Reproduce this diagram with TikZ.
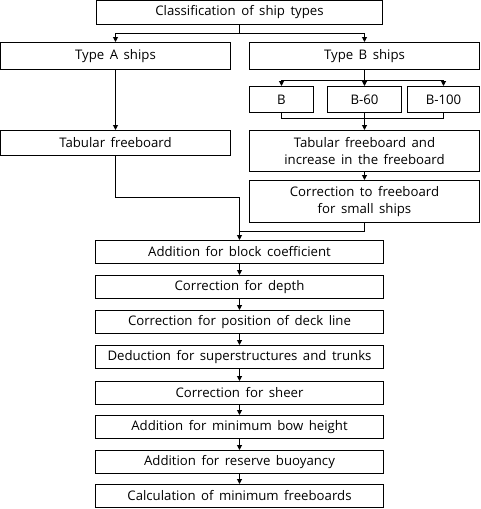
\documentclass[tikz,border=0pt]{standalone}
\usepackage{fontspec}
\setmainfont{Open Sans}[WordSpace=1.6]
\usetikzlibrary{arrows.meta}
\begin{document}
\begin{tikzpicture}[x=1pt,y=-1pt,
  box/.style={draw,line width=1pt,inner sep=0pt,align=center,font=\fontsize{13.2}{16.5}\selectfont},
  arr/.style={line width=1pt,-{Triangle[length=5pt,width=5pt]}},
  ln/.style={line width=1pt}]
\useasboundingbox (0,0) rectangle (480,509);
\node[box,minimum width=286pt,minimum height=24pt] (top) at (239.5,12.5) {Classification of ship types};
\node[box,minimum width=230pt,minimum height=27pt] (ta) at (115.5,56) {Type A ships};
\node[box,minimum width=230pt,minimum height=27pt] (tb) at (364.5,56) {Type B ships};
\node[box,minimum width=64pt,minimum height=26pt] (b) at (281.5,99.5) {B};
\node[box,minimum width=74pt,minimum height=26pt] (b60) at (364.5,99.5) {B-60};
\node[box,minimum width=72pt,minimum height=26pt] (b100) at (443.5,99.5) {B-100};
\node[box,minimum width=230pt,minimum height=25pt] (tab) at (115.5,143) {Tabular freeboard};
\node[box,minimum width=230pt,minimum height=41pt] (tabb) at (364.5,151) {Tabular freeboard and\\increase in the freeboard};
\node[box,minimum width=230pt,minimum height=42pt] (corr) at (364.5,201.5) {Correction to freeboard\\for small ships};
\begin{scope}[every node/.style={box,minimum width=288pt,minimum height=23pt}]
\node (l1) at (239.5,252) {Addition for block coefficient};
\node (l2) at (239.5,287) {Correction for depth};
\node (l3) at (239.5,322) {Correction for position of deck line};
\node (l4) at (239.5,357) {Deduction for superstructures and trunks};
\node (l5) at (239.5,393) {Correction for sheer};
\node (l6) at (239.5,427) {Addition for minimum bow height};
\node (l7) at (239.5,462) {Addition for reserve buoyancy};
\node (l8) at (239.5,496) {Calculation of minimum freeboards};
\end{scope}
\coordinate (j1) at (239.5,33.5);
\draw[ln] (top.south) -- (j1);
\draw[arr] (j1) -| (ta.north);
\draw[arr] (j1) -| (tb.north);
\coordinate (j2) at (364.5,80.5);
\draw[arr] (tb.south) -- (b60.north);
\draw[arr] (j2) -| (b.north);
\draw[arr] (j2) -| (b100.north);
\coordinate (j3) at (281.5,118.5);
\draw[ln] (b.south) -- (j3) -| (b100.south);
\draw[arr] (b60.south) -- (tabb.north);
\draw[arr] (ta.south) -- (tab.north);
\draw[arr] (tabb.south) -- (corr.north);
\coordinate (k1) at (115.5,197.5);
\coordinate (k2) at (239.5,197.5);
\coordinate (k3) at (364.5,231.5);
\coordinate (k4) at (239.5,231.5);
\draw[ln] (tab.south) -- (k1) -- (k2);
\draw[arr] (k2) -- (l1.north);
\draw[ln] (corr.south) -- (k3) -- (k4);
\foreach \a/\b in {l1/l2,l2/l3,l3/l4,l4/l5,l5/l6,l6/l7,l7/l8}
  \draw[arr] (\a.south) -- (\b.north);
\end{tikzpicture}
\end{document}
